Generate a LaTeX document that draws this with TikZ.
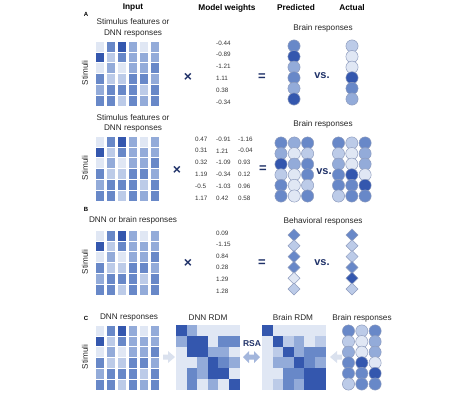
\documentclass[tikz,border=0pt]{standalone}
\usepackage{fontspec}
\setmainfont{Liberation Sans}

\definecolor{levA}{HTML}{E0E7F4}
\definecolor{levB}{HTML}{BCCBE8}
\definecolor{levC}{HTML}{93ABD9}
\definecolor{levD}{HTML}{6888C8}
\definecolor{levE}{HTML}{3457AE}
\definecolor{navy}{HTML}{1F3168}
\definecolor{dotline}{HTML}{8E9CBE}
\definecolor{arrowpale}{HTML}{DAE1EE}
\definecolor{arrowrsa}{HTML}{A3B6DC}

\tikzset{
    lbl/.style={inner sep=0pt, text=black!85, font=\fontsize{8.2}{10.5}\selectfont},
    head/.style={inner sep=0pt, font=\fontsize{8.3}{10}\selectfont\bfseries},
    panel/.style={inner sep=0pt, font=\fontsize{6}{7}\selectfont\bfseries},
    wt/.style={inner sep=0pt, anchor=west, text=black!80, font=\fontsize{6.3}{7}\selectfont},
    op/.style={inner sep=0pt, text=navy, font=\fontsize{11}{12}\selectfont\bfseries},
    dot/.style={draw=dotline, line width=0.5pt}
}

% stimulus x feature matrix, top left corner at (#1,#2)
\newcommand{\stimmatrix}[2]{%
    \foreach \colvals [count=\ci from 0] in {{A,E,A,D,C,D},{D,B,C,B,D,D},{E,D,A,B,D,B},{C,C,C,D,D,D},{A,C,C,D,B,C},{C,C,D,C,D,D}} {
        \foreach \lv [count=\ri from 0] in \colvals {
            \filldraw[fill=lev\lv, draw=white, line width=0.4pt] ({#1+11*\ci},{#2+10.83*\ri}) rectangle ++(9.6,10.83);
        }
    }
}

% grid of circles, first centre at (#1,#2), rows given in #3
\newcommand{\dotgrid}[3]{%
    \foreach \rowvals [count=\ri from 0] in {#3} {
        \foreach \lv [count=\ci from 0] in \rowvals {
            \filldraw[dot, fill=lev\lv] ({#1+13.3*\ci},{#2+10.6*\ri}) circle (6.1);
        }
    }
}

% column of diamonds, first centre at (#1,#2)
\newcommand{\diamcol}[3]{%
    \foreach \lv [count=\ri from 0] in {#3} {
        \filldraw[dot, fill=lev\lv] (#1,{#2+10.8*\ri-6}) -- ++(6,6) -- ++(-6,6) -- ++(-6,-6) -- cycle;
    }
}

% dissimilarity matrix, top left at (#1,#2)
\newcommand{\rdmgrid}[3]{%
    \foreach \rowvals [count=\ri from 0] in {#3} {
        \foreach \lv [count=\ci from 0] in \rowvals {
            \fill[lev\lv] ({#1+10.6*\ci},{#2+10.8*\ri}) rectangle ++(10.65,10.85);
        }
    }
}

\begin{document}
\begin{tikzpicture}[x=1pt, y=-1pt]
    \useasboundingbox (0,0) rectangle (474,399);

    % headings
    \node[head] (hInput) at (133,8) {Input};
    \node[head] (hWeights) at (227,8) {Model weights};
    \node[head] (hPred) at (296,8) {Predicted};
    \node[head] (hActual) at (352,8) {Actual};

    % A, single output
    \node[panel] (labA) at (86,14) {A};
    \node[lbl, align=center] (inA1) at (133,28) {Stimulus features or\\DNN responses};
    \stimmatrix{95}{41}
    \node[lbl, rotate=90] (stimA1) at (85,73) {Stimuli};
    \node[op, font=\fontsize{14}{15}\selectfont\bfseries] (timesA1) at (188,77) {×};
    \foreach \w [count=\k from 0] in {-0.44,-0.89,-1.21,1.11,0.38,-0.34}
        \node[wt] (wA\k) at (216,{43+11.8*\k}) {\w};
    \node[op, font=\fontsize{13}{14}\selectfont\bfseries] (eqA1) at (262,77) {=};
    \node[lbl] (outA1) at (323,28) {Brain responses};
    \dotgrid{294}{46}{{D},{E},{C},{D},{C},{E}}
    \node[op] (vsA1) at (322,76) {vs.};
    \dotgrid{352}{46}{{B},{A},{A},{E},{D},{C}}

    % A, several outputs
    \node[lbl, align=center] (inA2) at (133,123.5) {Stimulus features or\\DNN responses};
    \stimmatrix{95}{136}
    \node[lbl, rotate=90] (stimA2) at (85,168) {Stimuli};
    \node[op, font=\fontsize{14}{15}\selectfont\bfseries] (timesA2) at (177,170) {×};
    \foreach \wa/\wb/\wc [count=\k from 0] in {0.47/-0.91/-1.16, 0.31/1.21/-0.04, 0.32/-1.09/0.93, 1.19/-0.34/0.12, -0.5/-1.03/0.96, 1.17/0.42/0.58} {
        \node[wt] (wAa\k) at (195,{139+11.8*\k}) {\wa};
        \node[wt] (wAb\k) at (216,{139+11.8*\k}) {\wb};
        \node[wt] (wAc\k) at (238,{139+11.8*\k}) {\wc};
    }
    \node[op, font=\fontsize{13}{14}\selectfont\bfseries] (eqA2) at (263,169) {=};
    \node[lbl] (outA2) at (323,124) {Brain responses};
    \dotgrid{281}{143}{{D,C,D},{C,A,B},{E,C,D},{B,A,D},{D,A,B},{D,A,D}}
    \node[op] (vsA2) at (324,172) {vs.};
    \dotgrid{338.5}{143}{{D,B,D},{B,A,C},{C,A,C},{D,E,A},{D,D,E},{B,D,D}}

    % B
    \node[panel] (labB) at (86,209) {B};
    \node[lbl] (inB) at (133,220) {DNN or brain responses};
    \stimmatrix{95}{230}
    \node[lbl, rotate=90] (stimB) at (85,262) {Stimuli};
    \node[op, font=\fontsize{14}{15}\selectfont\bfseries] (timesB) at (188,263) {×};
    \foreach \w [count=\k from 0] in {0.09,-1.15,0.84,0.28,1.29,1.28}
        \node[wt] (wB\k) at (216,{233+11.6*\k}) {\w};
    \node[op, font=\fontsize{13}{14}\selectfont\bfseries] (eqB) at (262,263) {=};
    \node[lbl] (outB) at (323,221) {Behavioral responses};
    \diamcol{294}{235}{D,B,D,D,A,B}
    \node[op] (vsB) at (322,263) {vs.};
    \diamcol{352}{235}{D,B,B,D,E,B}

    % C
    \node[panel] (labC) at (86,318) {C};
    \node[lbl] (inC) at (129,318) {DNN responses};
    \stimmatrix{95}{325}
    \node[lbl, rotate=90] (stimC) at (85,357) {Stimuli};
    \fill[arrowpale] (163,354.5) -- (168,354.5) -- (168,351) -- (175,357) -- (168,363) -- (168,359.5) -- (163,359.5) -- cycle;
    \node[lbl] (hDnnRdm) at (208,318) {DNN RDM};
    \rdmgrid{176}{325}{{E,C,A,A,A,A},{C,E,E,A,D,D},{A,E,E,C,C,A},{A,A,C,E,D,C},{A,D,C,E,E,A},{A,D,A,C,A,E}}
    \node[op, font=\fontsize{8.5}{10}\selectfont\bfseries] (rsa) at (252,344) {RSA};
    \fill[arrowrsa] (243,357) -- (249,351) -- (249,354.5) -- (254,354.5) -- (254,351) -- (260,357) -- (254,363) -- (254,359.5) -- (249,359.5) -- (249,363) -- cycle;
    \node[lbl] (hBrainRdm) at (293,318) {Brain RDM};
    \rdmgrid{262}{325}{{E,A,A,A,A,A},{A,E,B,C,A,B},{A,B,E,C,D,D},{A,C,C,E,D,C},{A,A,D,D,E,E},{A,B,D,C,E,E}}
    \fill[arrowpale] (342,354.5) -- (337,354.5) -- (337,351) -- (330,357) -- (337,363) -- (337,359.5) -- (342,359.5) -- cycle;
    \node[lbl] (hBrainResp) at (362,318) {Brain responses};
    \dotgrid{348.5}{331}{{D,B,D},{B,A,C},{C,A,C},{D,E,A},{D,D,E},{B,D,D}}
\end{tikzpicture}
\end{document}
